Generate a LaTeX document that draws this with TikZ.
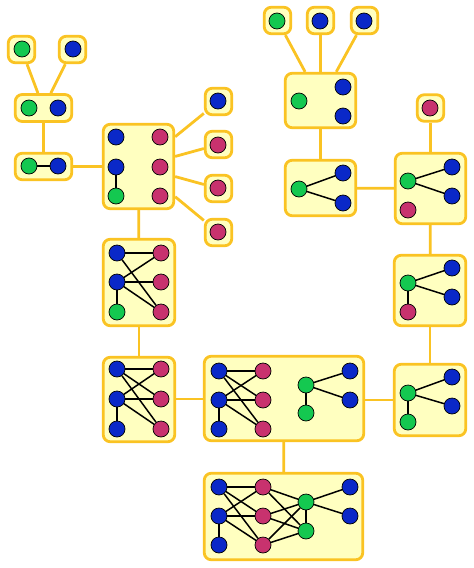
\documentclass[tikz,border=0pt]{standalone}
\usepackage{tikz}

\definecolor{boxfill}{RGB}{255,255,192}
\definecolor{boxline}{RGB}{250,195,35}
\definecolor{vblue}{RGB}{10,40,200}
\definecolor{vgreen}{RGB}{20,200,80}
\definecolor{vred}{RGB}{200,50,110}

\tikzset{
  box/.style={draw=boxline, fill=boxfill, line width=2.8pt, rounded corners=7pt, inner sep=0pt},
  link/.style={draw=boxline, line width=2.8pt},
  vtx/.style={circle, draw=black, line width=0.7pt, minimum size=16pt, inner sep=0pt},
  bv/.style={vtx, fill=vblue},
  gv/.style={vtx, fill=vgreen},
  rv/.style={vtx, fill=vred},
  edge/.style={draw=black, line width=1.5pt}
}

\begin{document}
\begin{tikzpicture}[x=1pt, y=-1pt]
    \useasboundingbox (0,0) rectangle (474,568);
    % boxes
    \foreach \n/\x/\y in {S1/21.5/49.5, S2/72.5/49.5, T1/218.5/101.5, T2/218.5/144.5, T3/218.5/188.5, T4/218.5/232.5, U1/277.5/20.5, U2/320.5/20.5, U3/364.5/20.5, R/430.5/108}
        \node[box, minimum width=26.5pt, minimum height=26.5pt] (\n) at (\x,\y) {};
    \node[box, minimum width=56.5pt, minimum height=27pt] (B) at (43.5,108) {};
    \node[box, minimum width=56.5pt, minimum height=26.5pt] (C) at (43.5,166.5) {};
    \node[box, minimum width=70.5pt, minimum height=84.5pt] (D) at (138.5,166.5) {};
    \node[box, minimum width=71.5pt, minimum height=86.5pt] (E) at (139,282.5) {};
    \node[box, minimum width=71.5pt, minimum height=84.5pt] (K) at (139,399.5) {};
    \node[box, minimum width=159.5pt, minimum height=84.5pt] (L) at (284,398.5) {};
    \node[box, minimum width=158.5pt, minimum height=86.5pt] (M) at (283.5,516.5) {};
    \node[box, minimum width=70.5pt, minimum height=54.5pt] (F) at (320.5,100.5) {};
    \node[box, minimum width=70.5pt, minimum height=55.5pt] (G) at (320.5,188) {};
    \node[box, minimum width=70.5pt, minimum height=70.5pt] (H) at (430.5,188.5) {};
    \node[box, minimum width=71.5pt, minimum height=70.5pt] (I) at (430,290.5) {};
    \node[box, minimum width=71.5pt, minimum height=71.5pt] (J) at (430,400) {};
    % links between boxes
    \foreach \a/\b in {S1/B, S2/B, B/C, C/D, D/T1, D/T2, D/T3, D/T4, D/E, E/K, U1/F, U2/F, U3/F, F/G, G/H, R/H, H/I, I/J}
        \draw[link] (\a) -- (\b);
    \draw[link] (K.east |- 0,399) -- (L.west |- 0,399);
    \draw[link] (L.east |- 0,400) -- (J.west |- 0,400);
    \draw[link] (L) -- (M);
    % vertices
    \foreach \n/\x/\y in {s2/73/49, b2/58/108, c2/58/166, d1/116/137, d2/116/167, t1/218/101,
        e1/117/253, e2/117/282, k1/117/369, k2/117/399, k3/117/429,
        l1/219/371, l2/219/400, l3/219/429, l8/350/371, l9/350/400,
        m1/219/487, m2/219/516, m3/219/545, m9/350/487, m10/350/516,
        u2/320/21, u3/364/21, f2/343/87, f3/343/116, g2/343/173, g3/343/203,
        h2/452/167, h3/452/196, i2/452/268, i3/452/297, j2/452/377, j3/452/406}
        \node[bv] (\n) at (\x,\y) {};
    \foreach \n/\x/\y in {s1/22/49, b1/29/108, c1/29/166, d3/116/196, e3/117/312,
        l7/306/385, l10/306/413, m7/306/502, m8/306/531,
        u1/277/21, f1/299/101, g1/299/189, h1/408/181, i1/408/283, j1/408/393, j4/408/422}
        \node[gv] (\n) at (\x,\y) {};
    \foreach \n/\x/\y in {d4/160/137, d5/160/167, d6/160/196, t2/218/145, t3/218/188, t4/218/232,
        e4/161/253, e5/161/282, e6/161/312, k4/161/369, k5/161/399, k6/161/429,
        l4/263/371, l5/263/400, l6/263/429, m4/263/487, m5/263/516, m6/263/545,
        r1/430/108, h4/408/210, i4/408/312}
        \node[rv] (\n) at (\x,\y) {};
    % edges
    \foreach \a/\b in {c1/c2, d2/d3, e1/e4, e1/e6, e2/e4, e2/e5, e2/e6, e2/e3,
        k1/k4, k1/k5, k1/k6, k2/k4, k2/k5, k2/k6, k2/k3,
        l1/l4, l1/l5, l1/l6, l2/l4, l2/l5, l2/l6, l2/l3, l7/l8, l7/l9, l7/l10,
        m1/m4, m1/m5, m1/m6, m2/m4, m2/m5, m2/m6, m2/m3,
        m4/m7, m4/m8, m5/m7, m5/m8, m6/m7, m6/m8, m7/m8, m7/m9, m7/m10,
        g1/g2, g1/g3, h1/h2, h1/h3, i1/i2, i1/i3, i1/i4, j1/j2, j1/j3, j1/j4}
        \draw[edge] (\a) -- (\b);
\end{tikzpicture}
\end{document}
